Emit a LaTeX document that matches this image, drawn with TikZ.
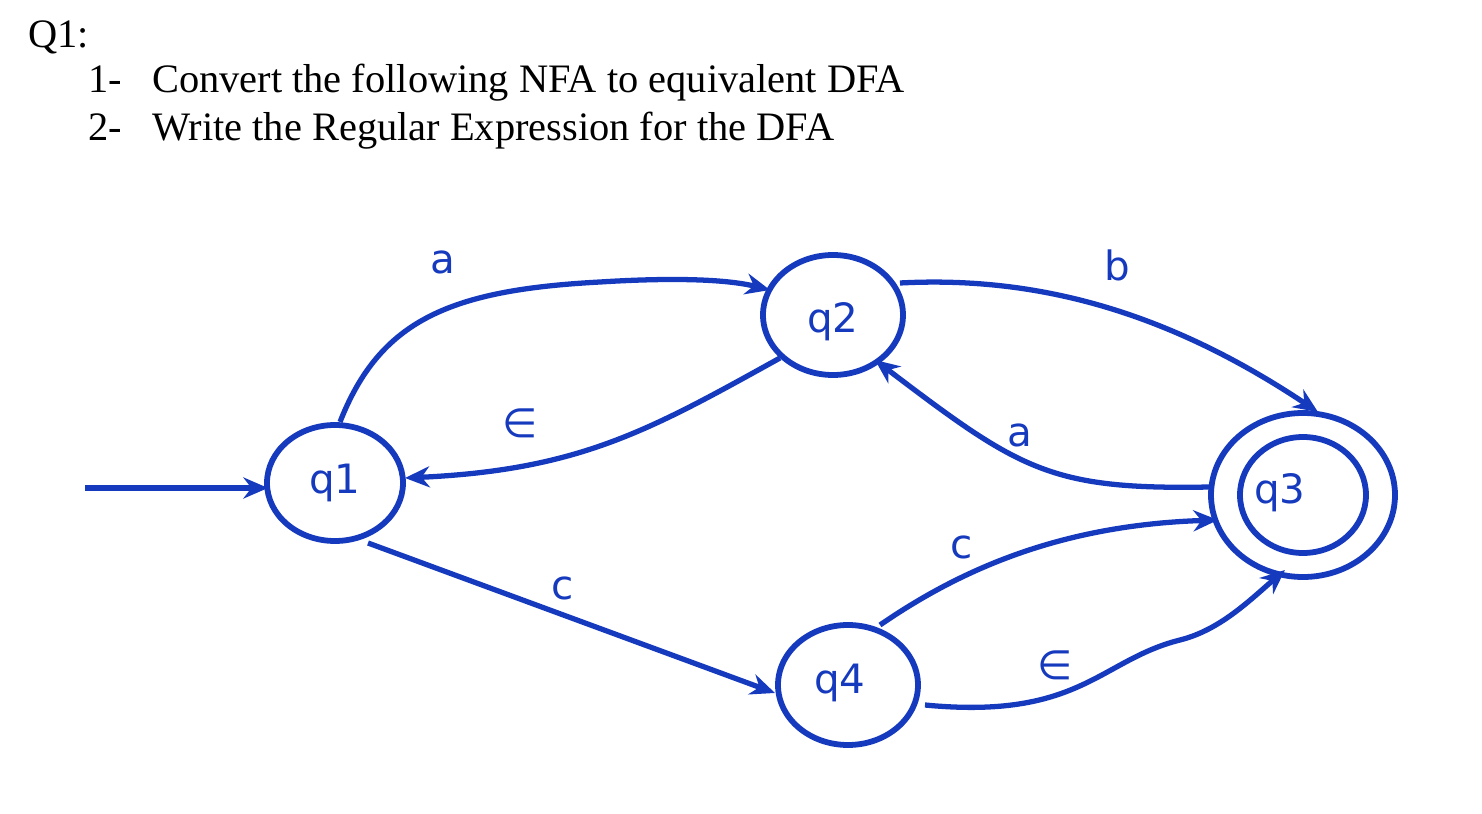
\documentclass[tikz,border=0pt]{standalone}
\usepackage{fontspec}
\setmainfont{Liberation Serif}
\newfontfamily\lab{DejaVu Sans}
\usetikzlibrary{arrows.meta}
\definecolor{nb}{RGB}{22,58,190}
\begin{document}
\begin{tikzpicture}[x=0.02cm,y=-0.02cm,
  st/.style={draw=nb,line width=3.3pt},
  ed/.style={draw=nb,line width=3pt,-{Stealth[length=14pt,width=12pt]}},
  lb/.style={text=nb,font=\lab\fontsize{23}{23}\selectfont},
  tx/.style={font=\fontsize{23}{27}\selectfont,anchor=west}]
\useasboundingbox (0,0) rectangle (1482,814);
\node[tx] (t0) at (22,37) {Q1:};
\node[tx] (t1) at (82,83) {1-\hspace{0.5em} Convert the following NFA to equivalent DFA};
\node[tx] (t2) at (82,131) {2-\hspace{0.5em} Write the Regular Expression for the DFA};
\draw[st] (335,483) ellipse [x radius=68,y radius=58];
\node[lb] (q1) at (335,483) {q1};
\draw[st] (833,315) ellipse [x radius=70,y radius=60];
\node[lb] (q2) at (833,322) {q2};
\draw[st] (1303,495) ellipse [x radius=92,y radius=82];
\draw[st] (1303,495) ellipse [x radius=63,y radius=58];
\node[lb] (q3) at (1280,493) {q3};
\draw[st] (848,685) ellipse [x radius=70,y radius=60];
\node[lb] (q4) at (840,683) {q4};
\coordinate (s) at (85,488);
\coordinate (q1w) at (268,488);
\draw[ed] (s) -- (q1w);
\draw[ed] (340,422) .. controls (380,320) and (450,290) .. (600,282) .. controls (680,277) and (730,280) .. (770,290);
\node[lb] (la) at (443,262) {a};
\draw[ed] (780,358) .. controls (650,430) and (580,470) .. (405,478);
\node[lb] (le1) at (520,423) {∈};
\draw[ed] (900,283) .. controls (1050,275) and (1180,320) .. (1318,412);
\node[lb] (lb) at (1117,265) {b};
\draw[ed] (1210,487) .. controls (1050,490) and (1020,470) .. (875,360);
\node[lb] (la2) at (1020,435) {a};
\draw[ed] (368,543) -- (775,693);
\node[lb] (lc1) at (563,588) {c};
\draw[ed] (880,625) .. controls (960,570) and (1060,525) .. (1218,520);
\node[lb] (lc2) at (962,547) {c};
\draw[ed] (925,705) .. controls (1080,720) and (1100,660) .. (1180,640) .. controls (1220,630) and (1250,600) .. (1285,570);
\node[lb] (le2) at (1055,665) {∈};
\end{tikzpicture}
\end{document}
